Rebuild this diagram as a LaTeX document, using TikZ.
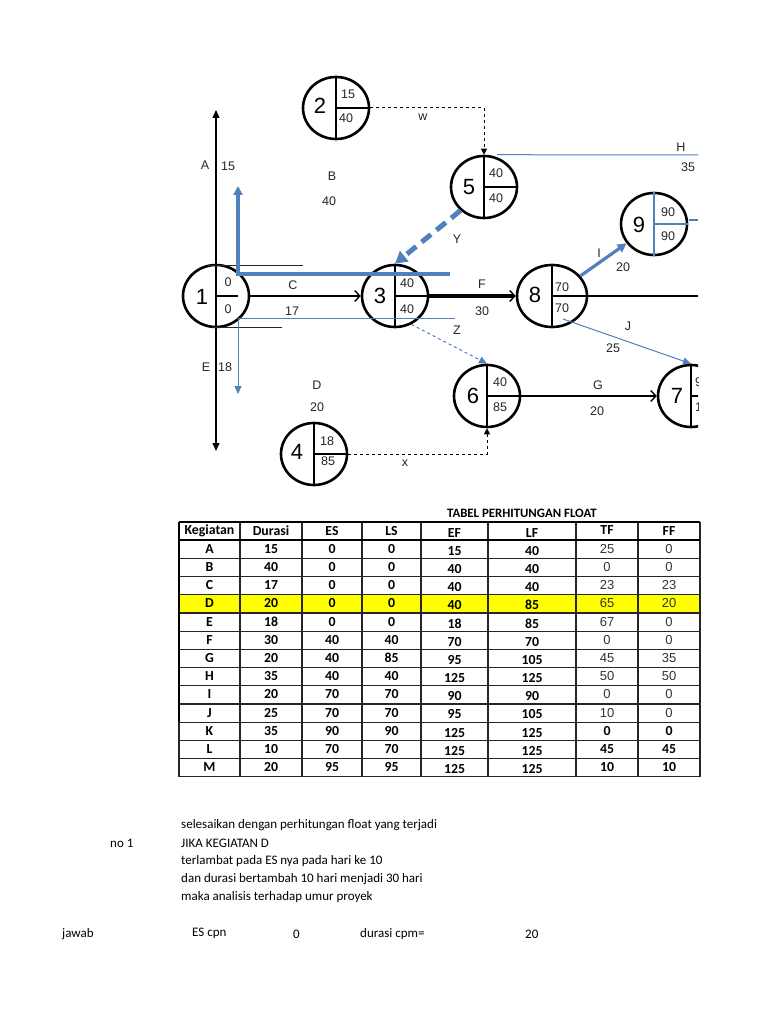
\documentclass[tikz,border=0pt]{standalone}
\usepackage{fontspec}
\setmainfont{Liberation Sans}
\newfontfamily\calfont{Carlito}
\usetikzlibrary{arrows.meta,shapes.geometric,calc}
\definecolor{ablue}{HTML}{4F81BD}
\definecolor{hlyellow}{HTML}{FFFF00}
\begin{document}
\begin{tikzpicture}[x=1pt,y=-1pt,
 ev/.style={ellipse,draw,line width=2.6pt,minimum width=66pt,minimum height=62pt,inner sep=0pt},
 dv/.style={line width=1.1pt},
 big/.style={font=\fontsize{22}{22}\selectfont,inner sep=0pt},
 sm/.style={font=\fontsize{12.5}{12.5}\selectfont,inner sep=0pt,text=black!85},
 lbl/.style={font=\fontsize{12.5}{12.5}\selectfont,inner sep=0pt,text=black!85},
 chev/.style={-{Straight Barb[length=5pt,width=11pt,line width'=1.4pt]}},
 tri/.style={-{Triangle[length=6pt,width=6pt]}},
 tc/.style={font=\calfont\bfseries\fontsize{13.8}{13.8}\selectfont,inner sep=0pt},
 ta/.style={font=\fontsize{13}{13}\selectfont,inner sep=0pt,text=black!80},
 bt/.style={font=\calfont\fontsize{13}{13}\selectfont,inner sep=0pt,anchor=west}]
\useasboundingbox (0,0) rectangle (768,1024);
\fill[white] (0,0) rectangle (768,1024);

\begin{scope}
\clip (0,0) rectangle (698,500);
% event nodes
\node[ev] (n1) at (216,296) {};
\node[ev] (n2) at (336,108) {};
\node[ev] (n5) at (484,187) {};
\node[ev] (n9) at (654,224) {};
\node[ev] (n3) at (395,296) {};
\node[ev,minimum width=70pt] (n8) at (552,296) {};
\node[ev] (n6) at (487,396) {};
\node[ev] (n7) at (691,396) {};
\node[ev] (n4) at (314,454) {};

% dividers
\draw[dv] (n1.center) -- ($(n1.center)+(22,0)$);
\foreach \n in {n2,n5,n3,n8,n6,n7,n4}{
  \draw[dv] (\n.north) -- (\n.south);
  \draw[dv] (\n.center) -- (\n.east);
}
\draw[dv,ablue] (n9.north) -- (n9.south);
\draw[dv,ablue] (n9.center) -- (n9.east);

% node texts
\node[big] (t1) at (202,297) {1};
\node[sm] (t1a) at (228,282) {0};
\node[sm] (t1b) at (228,309) {0};
\node[big] (t2) at (320,106) {2};
\node[sm] (t2a) at (348,94) {15};
\node[sm] (t2b) at (346,118) {40};
\node[big] (t5) at (469,187) {5};
\node[sm] (t5a) at (496,173) {40};
\node[sm] (t5b) at (496,198) {40};
\node[big] (t9) at (639,225) {9};
\node[sm] (t9a) at (668,212) {90};
\node[sm] (t9b) at (668,236) {90};
\node[big] (t3) at (380,296) {3};
\node[sm] (t3a) at (407,283) {40};
\node[sm] (t3b) at (407,309) {40};
\node[big] (t8) at (535,295) {8};
\node[sm] (t8a) at (562,287) {70};
\node[sm] (t8b) at (562,308) {70};
\node[big] (t6) at (473,396) {6};
\node[sm] (t6a) at (500,382) {40};
\node[sm] (t6b) at (500,407) {85};
\node[big] (t7) at (677,396) {7};
\node[sm,anchor=west] (t7a) at (695,382) {95};
\node[sm,anchor=west] (t7b) at (695,407) {105};
\node[big] (t4) at (297,452) {4};
\node[sm] (t4a) at (327,441) {18};
\node[sm] (t4b) at (328,461) {85};

% axis line through node 1
\coordinate (atop) at (216,110);
\coordinate (abot) at (216,451);
\draw[line width=1.1pt,-{Triangle[length=8pt,width=7pt]}] (n1.north) -- (atop);
\draw[line width=1.1pt,-{Triangle[length=8pt,width=7pt]}] (n1.south) -- (abot);
\draw[line width=1.1pt] (n1.north) -- (n1.south);

% extra lines round node 1
\draw[line width=1pt,black!85] (208,265) -- (303,265);
\draw[line width=1pt,black!85] (212,327) -- (282,327);
\draw[ablue,line width=3.2pt,-{Triangle[length=9pt,width=9pt]}] (450,274) -- (238,274) -- (238,186);
\draw[ablue,line width=1pt,-{Triangle[length=8pt,width=7pt]}] (455,318) -- (238,318) -- (238,394);

% activities
\draw[line width=1.1pt,chev] (n1.east) -- (n3.west);
\draw[line width=3.5pt,chev] (n3.east) -- (n8.west);
\draw[line width=1.1pt,chev] (n6.east) -- (n7.west);
\draw[line width=1pt,dashed,tri] (n2.east) -| (n5.north);
\draw[line width=1pt,dashed,tri] (n4.east) -| (n6.south);
\draw[ablue,line width=3.2pt,-{Triangle[length=9pt,width=9pt]}] (n8) -- (n9);
\draw[ablue,line width=1pt,-{Triangle[length=8pt,width=7pt]}] ($(n8.center)+(11,23)$) -- (n7.north);
\draw[ablue,line width=1pt,dashed,-{Triangle[length=8pt,width=7pt]}] (n3.-60) -- (n6.north);
\draw[ablue,line width=5pt,dash pattern=on 12pt off 7pt,-{Triangle[length=12pt,width=13pt]}] (n5.-135) -- (n3.north);
\coordinate (hend) at (698,155);
\draw[ablue,line width=1pt] ($(n5.north)+(13,0)$) -- (hend);
\coordinate (lend) at (698,296);
\draw[line width=1.1pt] (n8.east) -- (lend);
\coordinate (s9a) at (689,220);
\coordinate (s9b) at (698,220);
\draw[ablue,line width=1.3pt] (s9a) -- (s9b);

% activity labels
\node[lbl] (lA) at (205,165) {A};
\node[lbl] (lA2) at (228,166) {15};
\node[lbl] (lB) at (332,176) {B};
\node[lbl] (lB2) at (329,201) {40};
\node[lbl] (lw) at (423,117) {w};
\node[lbl] (lH) at (681,147) {H};
\node[lbl] (lH2) at (688,167) {35};
\node[lbl] (lY) at (457,239) {Y};
\node[lbl] (lI) at (599,253) {I};
\node[lbl] (lI2) at (623,267) {20};
\node[lbl] (lC) at (293,285) {C};
\node[lbl] (lC2) at (292,311) {17};
\node[lbl] (lF) at (482,284) {F};
\node[lbl] (lF2) at (482,311) {30};
\node[lbl] (lZ) at (457,330) {Z};
\node[lbl] (lJ) at (628,326) {J};
\node[lbl] (lJ2) at (613,348) {25};
\node[lbl] (lE) at (206,367) {E};
\node[lbl] (lE2) at (225,367) {18};
\node[lbl] (lD) at (317,385) {D};
\node[lbl] (lD2) at (317,407) {20};
\node[lbl] (lG) at (598,385) {G};
\node[lbl] (lG2) at (597,411) {20};
\node[lbl] (lx) at (405,463) {x};
\end{scope}

% table
\node[font=\calfont\bfseries\fontsize{12.8}{12.8}\selectfont,inner sep=0pt,anchor=west] (ttl) at (447,513) {TABEL PERHITUNGAN FLOAT};
\fill[hlyellow] (179,594.8) rectangle (700,613);
\foreach \i in {0,...,14}{
  \pgfmathsetmacro\yy{522+18.2*\i}
  \draw[line width=1.1pt,black!85] (179,\yy) -- (700,\yy);
}
\foreach \x in {179,240,302,362,421,488,576,638,700}{
  \draw[line width=1.1pt,black!85] (\x,522) -- (\x,776.8);
}
\draw[line width=2.2pt] (179,522) -- (179,722.2);
\draw[line width=1.8pt] (179,522) -- (700,522);
\draw[line width=1.8pt] (179,540.2) -- (700,540.2);

\node[tc] (h1) at (209.5,531) {Kegiatan};
\node[tc] (h2) at (271,531) {Durasi};
\node[tc] (h3) at (332,531) {ES};
\node[tc] (h4) at (391.5,531) {LS};
\node[tc] (h5) at (454.5,533) {EF};
\node[tc] (h6) at (532,533) {LF};
\node[tc] (h7) at (607,530) {TF};
\node[tc] (h8) at (669,531) {FF};

\foreach \k/\d/\es/\ls/\ef/\lf/\tf/\ff [count=\r] in {A/15/0/0/15/40/25/0,B/40/0/0/40/40/0/0,C/17/0/0/40/40/23/23,D/20/0/0/40/85/65/20,E/18/0/0/18/85/67/0,F/30/40/40/70/70/0/0,G/20/40/85/95/105/45/35,H/35/40/40/125/125/50/50,I/20/70/70/90/90/0/0,J/25/70/70/95/105/10/0,K/35/90/90/125/125/0/0,L/10/70/70/125/125/45/45,M/20/95/95/125/125/10/10}{
  \pgfmathsetmacro\yy{522+18.2*\r+8.6}
  \pgfmathsetmacro\yz{\yy+1.8}
  \node[tc] (k\r) at (209.5,\yy) {\k};
  \node[tc] (d\r) at (271,\yy) {\d};
  \node[tc] (es\r) at (332,\yy) {\es};
  \node[tc] (ls\r) at (391.5,\yy) {\ls};
  \node[tc] (ef\r) at (454.5,\yz) {\ef};
  \node[tc] (lf\r) at (532,\yz) {\lf};
  \ifnum\r<11
    \node[ta] (tf\r) at (607,\yy) {\tf};
    \node[ta] (ff\r) at (669,\yy) {\ff};
  \else
    \node[tc] (tf\r) at (607,\yy) {\tf};
    \node[tc] (ff\r) at (669,\yy) {\ff};
  \fi
}

% bottom text
\node[bt] (b1) at (181,825) {selesaikan dengan perhitungan float yang terjadi};
\node[bt] (b2) at (110,843) {no 1};
\node[bt] (b3) at (181,843) {JIKA KEGIATAN D};
\node[bt] (b4) at (181,861) {terlambat pada ES nya pada hari ke 10};
\node[bt] (b5) at (181,879) {dan durasi bertambah 10 hari menjadi 30 hari};
\node[bt] (b6) at (181,897) {maka analisis terhadap umur proyek};
\node[bt] (b7) at (62,934) {jawab};
\node[bt] (b8) at (192,933) {ES cpn};
\node[bt] (b9) at (293,934) {0};
\node[bt] (b10) at (360,934) {durasi cpm=};
\node[bt] (b11) at (525,934) {20};
\end{tikzpicture}
\end{document}
